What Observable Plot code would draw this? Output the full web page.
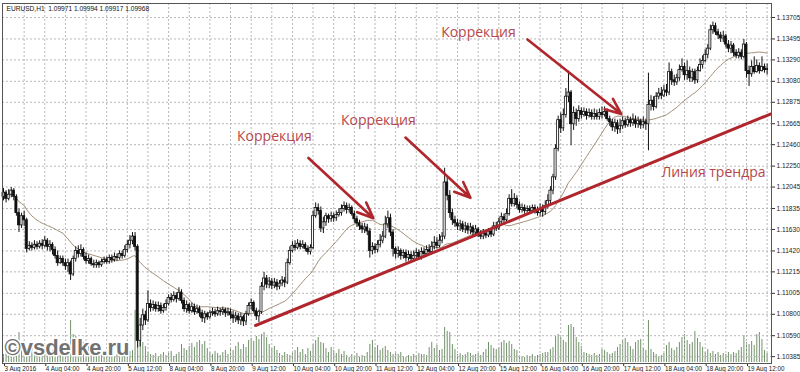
<!DOCTYPE html>
<html>
<head>
<meta charset="utf-8">
<script src="https://cdn.jsdelivr.net/npm/d3@7"></script>
<script src="https://cdn.jsdelivr.net/npm/@observablehq/plot@0.6"></script>
<style>
  html, body { margin: 0; padding: 0; background: #fff; }
  #chart { position: relative; width: 800px; height: 372px; overflow: hidden; }
  #chart svg { position: absolute; left: 0; top: 0; }
</style>
</head>
<body>
<div id="chart"></div>
<script>
// EURUSD H1, 3 Aug 2016 12:00 ... 19 Aug 2016 — prices in pips (price x 10000)
const openPips = [
11195,11199,11193,11197,11201,11195,11179,11167,11176,11172,
11144,11147,11145,11148,11146,11149,11147,11152,11146,11148,
11143,11137,11130,11134,11130,11127,11130,11119,11134,11142,
11139,11143,11136,11132,11134,11129,11128,11130,11128,11131,
11133,11131,11135,11133,11136,11135,11139,11137,11143,11148,
11152,11156,11146,11054,11069,11079,11074,11090,11086,11089,
11085,11088,11083,11086,11090,11096,11094,11098,11095,11101,
11093,11085,11089,11083,11087,11082,11085,11081,11076,11080,
11077,11081,11082,11080,11083,11082,11084,11081,11082,11079,
11076,11078,11074,11077,11073,11080,11088,11091,11083,11078,
11082,11107,11115,11109,11112,11108,11111,11107,11110,11113,
11111,11130,11142,11147,11145,11149,11146,11148,11144,11141,
11145,11176,11184,11181,11164,11170,11176,11173,11176,11174,
11177,11179,11183,11186,11182,11184,11178,11173,11169,11166,
11163,11165,11161,11142,11146,11143,11148,11152,11156,11168,
11174,11160,11144,11139,11142,11137,11140,11135,11138,11134,
11137,11140,11136,11141,11139,11143,11141,11146,11150,11147,
11152,11156,11209,11196,11179,11172,11169,11166,11168,11163,
11166,11162,11165,11160,11163,11159,11156,11159,11157,11161,
11158,11166,11164,11170,11175,11172,11178,11193,11188,11193,
11187,11182,11184,11181,11183,11181,11184,11182,11179,11183,
11180,11186,11191,11201,11214,11242,11270,11262,11275,11293,
11297,11266,11277,11271,11279,11275,11278,11274,11277,11273,
11276,11273,11277,11275,11278,11271,11268,11263,11267,11261,
11264,11269,11265,11270,11267,11270,11266,11269,11265,11268,
11266,11285,11289,11283,11293,11296,11294,11299,11297,11317,
11309,11307,11311,11319,11322,11314,11318,11311,11317,11309,
11318,11324,11328,11334,11340,11358,11362,11356,11353,11350,
11352,11344,11340,11343,11336,11333,11336,11332,11344,11318,
11315,11322,11317,11323,11318,11322,11319
];
const highPips = [
11203,11201,11202,11204,11203,11197,11183,11179,11181,11174,
11151,11150,11152,11151,11152,11153,11156,11154,11152,11150,
11146,11142,11137,11137,11134,11134,11132,11137,11146,11147,
11148,11145,11140,11138,11136,11133,11133,11132,11134,11136,
11136,11138,11138,11140,11139,11142,11142,11147,11152,11157,
11160,11160,11148,11076,11085,11083,11103,11094,11093,11092,
11092,11091,11090,11094,11099,11100,11102,11101,11106,11104,
11096,11093,11091,11091,11090,11089,11088,11084,11083,11082,
11084,11086,11085,11087,11086,11087,11086,11086,11085,11083,
11082,11081,11081,11079,11083,11091,11095,11093,11086,11084,
11111,11121,11118,11116,11115,11115,11114,11113,11117,11116,
11134,11146,11151,11152,11153,11152,11152,11150,11147,11148,
11181,11189,11188,11185,11175,11179,11178,11180,11179,11181,
11183,11187,11190,11189,11188,11186,11181,11176,11172,11169,
11169,11168,11164,11150,11149,11152,11158,11161,11176,11181,
11178,11163,11146,11146,11144,11143,11143,11142,11141,11142,
11144,11143,11145,11145,11147,11148,11151,11156,11155,11158,
11160,11223,11215,11201,11183,11176,11173,11172,11171,11170,
11169,11169,11167,11167,11165,11162,11163,11161,11164,11164,
11170,11170,11174,11179,11178,11183,11197,11202,11198,11196,
11190,11188,11187,11186,11186,11187,11187,11185,11188,11187,
11191,11197,11205,11217,11246,11274,11277,11281,11301,11318,
11299,11283,11281,11284,11282,11282,11281,11281,11280,11281,
11280,11281,11283,11283,11281,11274,11271,11271,11270,11271,
11273,11272,11274,11273,11276,11274,11273,11271,11273,11271,
11316,11294,11293,11297,11301,11302,11304,11305,11326,11320,
11314,11315,11324,11330,11326,11328,11322,11320,11320,11322,
11330,11333,11339,11344,11363,11366,11365,11359,11356,11357,
11354,11348,11347,11345,11339,11340,11339,11349,11346,11323,
11328,11332,11329,11326,11332,11325,11325
];
const lowPips = [
11191,11189,11191,11194,11191,11176,11160,11164,11166,11140,
11142,11142,11143,11143,11144,11143,11145,11142,11141,11138,
11134,11127,11129,11127,11123,11121,11113,11117,11131,11135,
11136,11133,11129,11129,11127,11125,11125,11125,11126,11129,
11129,11129,11130,11131,11132,11133,11134,11135,11140,11144,
11148,11142,11047,11048,11064,11069,11072,11082,11083,11082,
11082,11080,11081,11083,11088,11091,11092,11091,11093,11090,
11082,11081,11080,11081,11079,11080,11077,11072,11071,11074,
11075,11078,11077,11078,11078,11079,11077,11078,11075,11071,
11072,11070,11069,11068,11069,11078,11084,11081,11074,11072,
11080,11103,11105,11105,11104,11105,11103,11104,11107,11106,
11109,11128,11140,11142,11143,11143,11144,11141,11138,11138,
11143,11174,11177,11160,11159,11166,11169,11170,11170,11171,
11175,11176,11180,11178,11179,11176,11169,11165,11162,11159,
11159,11157,11135,11138,11139,11140,11145,11149,11154,11164,
11156,11136,11134,11135,11133,11134,11131,11132,11130,11131,
11134,11133,11133,11135,11136,11138,11139,11143,11144,11145,
11149,11153,11191,11174,11167,11165,11162,11161,11160,11159,
11158,11158,11156,11156,11155,11153,11153,11154,11155,11155,
11156,11161,11162,11167,11168,11170,11176,11185,11185,11183,
11179,11179,11178,11179,11178,11179,11178,11176,11176,11175,
11177,11183,11188,11197,11211,11239,11257,11259,11272,11287,
11245,11260,11264,11268,11271,11273,11270,11272,11270,11270,
11270,11270,11271,11273,11269,11264,11259,11258,11256,11257,
11261,11262,11263,11263,11264,11262,11262,11261,11262,11260,
11240,11279,11279,11281,11290,11290,11292,11293,11294,11304,
11303,11304,11308,11317,11309,11309,11307,11307,11305,11306,
11317,11320,11326,11330,11338,11354,11353,11349,11346,11346,
11341,11336,11335,11332,11330,11330,11329,11330,11311,11303,
11312,11315,11316,11315,11317,11316,11314
];
const closePips = [
11199,11193,11197,11201,11195,11179,11167,11176,11172,11144,
11147,11145,11148,11146,11149,11147,11152,11146,11148,11143,
11137,11130,11134,11130,11127,11130,11119,11134,11142,11139,
11143,11136,11132,11134,11129,11128,11130,11128,11131,11133,
11131,11135,11133,11136,11135,11139,11137,11143,11148,11152,
11156,11146,11054,11069,11079,11074,11090,11086,11089,11085,
11088,11083,11086,11090,11096,11094,11098,11095,11101,11093,
11085,11089,11083,11087,11082,11085,11081,11076,11080,11077,
11081,11082,11080,11083,11082,11084,11081,11082,11079,11076,
11078,11074,11077,11073,11080,11088,11091,11083,11078,11082,
11107,11115,11109,11112,11108,11111,11107,11110,11113,11111,
11130,11142,11147,11145,11149,11146,11148,11144,11141,11145,
11176,11184,11181,11164,11170,11176,11173,11176,11174,11177,
11179,11183,11186,11182,11184,11178,11173,11169,11166,11163,
11165,11161,11142,11146,11143,11148,11152,11156,11168,11174,
11160,11144,11139,11142,11137,11140,11135,11138,11134,11137,
11140,11136,11141,11139,11143,11141,11146,11150,11147,11152,
11156,11209,11196,11179,11172,11169,11166,11168,11163,11166,
11162,11165,11160,11163,11159,11156,11159,11157,11161,11158,
11166,11164,11170,11175,11172,11178,11193,11188,11193,11187,
11182,11184,11181,11183,11181,11184,11182,11179,11183,11180,
11186,11191,11201,11214,11242,11270,11262,11275,11293,11297,
11266,11277,11271,11279,11275,11278,11274,11277,11273,11276,
11273,11277,11275,11278,11271,11268,11263,11267,11261,11264,
11269,11265,11270,11267,11270,11266,11269,11265,11268,11266,
11285,11289,11283,11293,11296,11294,11299,11297,11317,11309,
11307,11311,11319,11322,11314,11318,11311,11317,11309,11318,
11324,11328,11334,11340,11358,11362,11356,11353,11350,11352,
11344,11340,11343,11336,11333,11336,11332,11344,11318,11315,
11322,11317,11323,11318,11322,11319,11320
];
// tick volume (hundreds)
const volume = [
8,10,7,9,12,18,30,12,15,10,
8,14,9,7,11,13,16,10,8,12,
14,10,12,17,15,20,42,28,26,24,
22,20,18,16,13,10,12,9,7,8,
6,9,7,5,8,10,7,6,9,11,
12,52,46,30,20,16,10,8,7,9,
6,8,10,7,9,11,6,8,10,18,
14,12,16,19,15,20,22,18,21,14,
10,8,11,9,7,10,12,8,14,12,
16,20,13,18,15,22,24,21,26,23,
28,30,25,18,14,16,12,9,7,10,
8,7,9,12,15,10,13,8,14,11,
18,22,25,20,19,14,10,15,12,9,
13,8,11,7,5,8,6,9,5,7,
6,10,18,22,15,17,12,14,16,12,
10,8,9,8,10,6,5,7,6,8,
7,9,8,8,7,15,20,14,17,12,
13,35,31,30,18,13,8,9,7,8,
10,9,7,8,9,7,10,13,20,17,
14,13,15,20,22,19,21,18,13,12,
7,6,5,7,6,8,5,7,8,9,
10,10,13,15,26,28,25,22,20,37,
38,35,25,20,16,10,9,8,7,9,
7,8,13,12,10,8,9,11,15,18,
22,24,20,16,13,20,22,23,14,12,
42,13,10,8,6,7,9,17,20,14,
12,15,20,25,28,22,18,20,31,24,
20,15,10,13,9,11,8,10,7,9,
8,10,8,10,9,12,15,27,20,18,
21,17,28,30,23,12,9
];
const timeLabels = ["3 Aug 2016","4 Aug 04:00","4 Aug 20:00","5 Aug 12:00","8 Aug 04:00","8 Aug 20:00",
  "9 Aug 12:00","10 Aug 04:00","10 Aug 20:00","11 Aug 12:00","12 Aug 04:00","12 Aug 20:00",
  "15 Aug 12:00","16 Aug 04:00","16 Aug 20:00","17 Aug 12:00","18 Aug 04:00","18 Aug 20:00","19 Aug 12:00"];
const priceTicks = [1.13705,1.13495,1.13290,1.13080,1.12875,1.12665,1.12460,1.12250,1.12045,
  1.11835,1.11630,1.11420,1.11215,1.11005,1.10800,1.10590,1.10385];
const headerText = "EURUSD,H1  1.09971 1.09994 1.09917 1.09968";
const watermark = "©vsdelke.ru";
// annotations (bar index, price)
const trendBar = [97.7, 297.3];
const trendPrice = [1.1069, 1.1276];
const arrowFromBar = [118.2, 155.8, 203.1];
const arrowFromPrice = [1.1233, 1.1253, 1.1349];
const arrowToBar = [143.4, 181.0, 239.5];
const arrowToPrice = [1.1174, 1.1194, 1.1276];
const noteText = ["Коррекция", "Коррекция", "Коррекция", "Линия трендра"];
const noteBar = [105.0, 145.3, 184.1, 275.2];
const notePrice = [1.1254, 1.1270, 1.1356, 1.1219];

// ---- build rows ----
const n = Math.min(openPips.length, highPips.length, lowPips.length, closePips.length, volume.length);
const bars = d3.range(n).map(i => ({
  i, open: openPips[i] / 1e4, high: highPips[i] / 1e4, low: lowPips[i] / 1e4, close: closePips[i] / 1e4, vol: volume[i]
}));
const trend = trendBar.map((b, k) => ({b, p: trendPrice[k]}));
const arrows = arrowFromBar.map((b, k) => ({x1: b, y1: arrowFromPrice[k], x2: arrowToBar[k], y2: arrowToPrice[k]}));
const notes = noteText.map((t, k) => ({t, b: noteBar[k], p: notePrice[k]}));
const labelBars = timeLabels.map((_, k) => k * 16);
const gridBars = d3.range(8, 298, 8);

const W = 800, H = 372;
const M = {top: 3, right: 29, bottom: 9, left: 2};
const xDomain = [-0.39, 297.7];
const RED = "#b0262d";
const FONT = "Liberation Sans, Arial, sans-serif";

// volume layer (own y scale)
const volPlot = Plot.plot({
  width: W, height: H,
  marginTop: 302, marginBottom: 10, marginLeft: M.left, marginRight: M.right,
  x: {domain: xDomain, axis: null},
  y: {domain: [0, 60], axis: null},
  style: {background: "transparent"},
  marks: [
    Plot.ruleX(bars, {x: "i", y1: 0, y2: "vol", stroke: "#72926a", strokeWidth: 1})
  ]
});

// price layer
const mainPlot = Plot.plot({
  width: W, height: H,
  marginTop: M.top, marginBottom: M.bottom, marginLeft: M.left, marginRight: M.right,
  x: {domain: xDomain, label: null},
  y: {domain: [1.10318, 1.13842], label: null},
  style: {background: "transparent", fontFamily: FONT},
  marks: [
    Plot.gridY(priceTicks, {stroke: "#b8b8b8", strokeOpacity: 1, strokeDasharray: "2,2"}),
    Plot.gridX(gridBars, {stroke: "#b8b8b8", strokeOpacity: 1, strokeDasharray: "2,2"}),
    Plot.axisY({anchor: "right", ticks: priceTicks, tickFormat: d => d.toFixed(5), tickSize: 3, tickPadding: 2,
      fontSize: 6.6, fill: "#222", stroke: "#333", label: null}),
    Plot.axisX({anchor: "bottom", ticks: labelBars, tickFormat: d => timeLabels[Math.round(d / 16)],
      tickSize: 3, tickPadding: 0, textAnchor: "start", dx: 1, fontSize: 6.3, fill: "#222", stroke: "#333", label: null}),
    Plot.lineY(bars, Plot.windowY({k: 24, anchor: "end"}, {x: "i", y: "close", stroke: "#a28e76", strokeWidth: 1})),
    Plot.ruleX(bars, {x: "i", y1: "low", y2: "high", stroke: "#111", strokeWidth: 1}),
    Plot.rect(bars, {
      x1: d => d.i - 0.4, x2: d => d.i + 0.4, y1: "open", y2: "close",
      fill: d => d.close >= d.open ? "#fff" : "#111", stroke: "#111", strokeWidth: 0.8
    }),
    Plot.line(trend, {x: "b", y: "p", stroke: RED, strokeWidth: 3}),
    Plot.arrow(arrows, {x1: "x1", y1: "y1", x2: "x2", y2: "y2", stroke: RED, strokeWidth: 2.6, headLength: 10, headAngle: 45}),
    Plot.text(notes, {x: "b", y: "p", text: "t", fill: "#b5474c", fontSize: 14, fontFamily: "Open Sans"}),
    Plot.text([headerText], {frameAnchor: "top-left", text: d => d, dx: 4, dy: 3, lineAnchor: "top", textAnchor: "start",
      fontSize: 6.6, fill: "#111"}),
    Plot.text([watermark], {frameAnchor: "bottom-left", text: d => d, dx: 2, dy: -9, lineAnchor: "bottom", textAnchor: "start",
      fontSize: 22, fontWeight: "bold", fontFamily: FONT, fill: "#727272", stroke: "#fff", strokeWidth: 3, paintOrder: "stroke"}),
    Plot.frame({stroke: "#555"})
  ]
});

const chart = document.getElementById("chart");
chart.appendChild(volPlot);
chart.appendChild(mainPlot);
</script>
</body>
</html>
